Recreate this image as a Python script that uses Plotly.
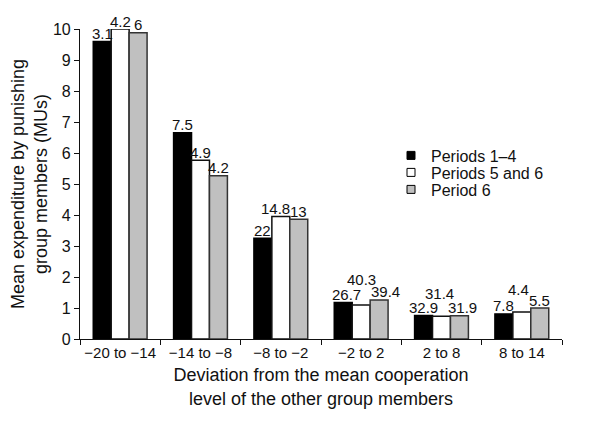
import plotly.graph_objects as go

categories = ["\u221220 to \u221214", "\u221214 to \u22128", "\u22128 to \u22122", "\u22122 to 2", "2 to 8", "8 to 14"]
series_names = ["Periods 1\u20134", "Periods 5 and 6", "Period 6"]
periods_1_4 = [9.6, 6.65, 3.25, 1.18, 0.76, 0.81]
periods_5_6 = [10.0, 5.77, 3.95, 1.10, 0.73, 0.87]
period_6 = [9.88, 5.27, 3.86, 1.26, 0.75, 1.0]
labels_1_4 = ["3.1", "7.5", "22", "26.7", "32.9", "7.8"]
labels_5_6 = ["4.2", "4.9", "14.8", "40.3", "31.4", "4.4"]
labels_6 = ["6", "4.2", "13", "39.4", "31.9", "5.5"]

FONT = "Liberation Sans, Arial, sans-serif"
INK = "#111111"
fills = ["#000000", "#ffffff", "#c0c0c0"]
edges = ["#000000", "#111111", "#333333"]
values = [periods_1_4, periods_5_6, period_6]
texts = [labels_1_4, labels_5_6, labels_6]

# label placement tweaks (series index, category index) -> (dx px, extra dy px)
nudges = {(1, 2): (-5, 0), (0, 3): (3, 0), (1, 3): (0, 17),
          (2, 3): (6, 0), (1, 4): (-2, 15), (2, 4): (3, 0), (1, 5): (-3, 15)}

fig = go.Figure()
for name, vals, fc, ec in zip(series_names, values, fills, edges):
    fig.add_trace(go.Bar(
        x=categories, y=vals, name=name, showlegend=False,
        marker=dict(color=fc, line=dict(color=ec, width=1.5)),
    ))

legend_ids = ["legend", "legend2", "legend3"]
for name, fc, lid in zip(series_names, fills, legend_ids):
    fig.add_trace(go.Scatter(
        x=[None], y=[None], mode="markers", name=name, legend=lid,
        marker=dict(symbol="square", size=8, color=fc, line=dict(color="#000000", width=1)),
    ))

shifts = [-18, 0, 18]
for s, (vals, labs) in enumerate(zip(values, texts)):
    for i, (c, v, t) in enumerate(zip(categories, vals, labs)):
        dx, dy = nudges.get((s, i), (0, 0))
        fig.add_annotation(
            x=c, y=v, text=t, showarrow=False, xref="x", yref="y",
            xshift=shifts[s] + dx, yshift=8 + dy, yanchor="middle", xanchor="center",
            font=dict(family=FONT, size=15, color=INK),
        )

L, R, T, B = 80, 38, 29, 100
W, H = 600, 439
plot_w = W - L - R
plot_h = H - T - B

def px_to_paper(xp, yp):
    return (xp - L) / plot_w, (H - B - yp) / plot_h

legend_rows = [155.5, 172.5, 189.5]
layout_legends = {}
for lid, yrow in zip(legend_ids, legend_rows):
    lx, ly = px_to_paper(391, yrow)
    layout_legends[lid] = dict(
        x=lx, y=ly, xanchor="left", yanchor="middle",
        font=dict(family=FONT, size=16, color=INK),
        bgcolor="rgba(0,0,0,0)", itemwidth=30,
    )

fig.update_layout(
    width=W, height=H,
    margin=dict(l=L, r=R, t=T, b=B, autoexpand=False),
    paper_bgcolor="white", plot_bgcolor="white",
    barmode="group", bargap=0.33, bargroupgap=0,
    font=dict(family=FONT, size=15, color=INK),
    **layout_legends,
)

fig.update_xaxes(
    type="category", range=[-0.5, 5.5], tickangle=0, automargin=False,
    showline=True, linecolor=INK, linewidth=1.2,
    ticks="outside", tickson="boundaries", ticklen=5, tickcolor=INK, tickwidth=1.2,
    tickfont=dict(family=FONT, size=15, color=INK),
    showgrid=False, zeroline=False,
    title=dict(text="Deviation from the mean cooperation<br>level of the other group members",
               font=dict(family=FONT, size=18, color=INK), standoff=8),
)
fig.update_yaxes(
    range=[0, 10], dtick=1, tick0=0, automargin=False,
    showline=True, linecolor=INK, linewidth=1.2,
    ticks="outside", ticklen=5, tickcolor=INK, tickwidth=1.2,
    tickfont=dict(family=FONT, size=16, color=INK),
    showgrid=False, zeroline=False,
    title=dict(text="Mean expenditure by punishing<br>group members (MUs)",
               font=dict(family=FONT, size=18, color=INK), standoff=0),
)

fig.write_html("out.html", post_script="document.body.style.margin='0';",
               config={"displayModeBar": False})
